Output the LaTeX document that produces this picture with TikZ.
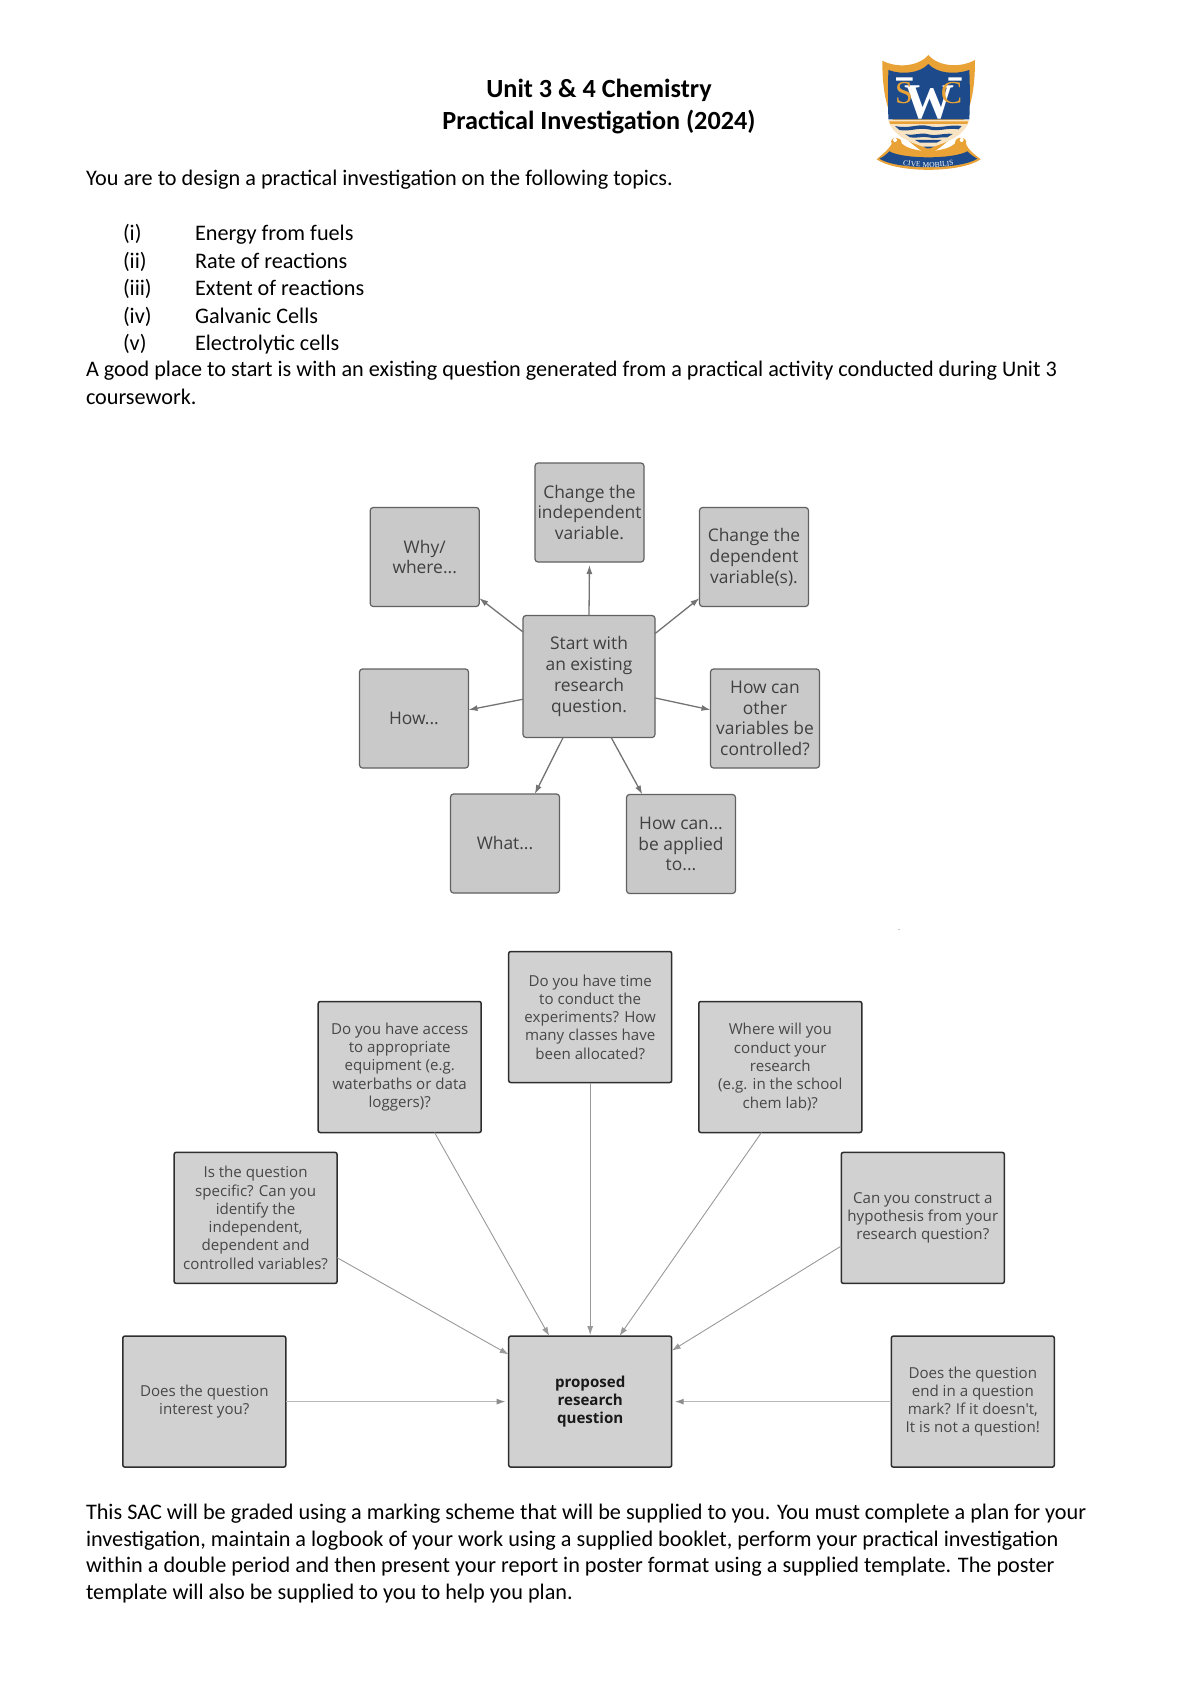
\documentclass[tikz,border=0pt]{standalone}
\usepackage{fontspec}
\setmainfont{Carlito}
\newfontfamily\boxfont{Open Sans}
\newfontfamily\crestfont{Liberation Serif}
\usepackage{tikz}
\usetikzlibrary{calc, arrows.meta, decorations.text}
\definecolor{crestblue}{HTML}{1C4A8A}
\definecolor{crestgold}{HTML}{E9A236}

\begin{document}
\begin{tikzpicture}[x=1pt,y=-1pt,inner sep=0pt,outer sep=0pt,>={Latex[length=9pt,width=6pt]},%
  body/.style={anchor=base west,font=\fontsize{22.22}{27}\selectfont},
  heading/.style={align=center,font=\fontsize{26.2}{32.5}\selectfont\bfseries},
  upperbox/.style={draw=black!62,fill=black!21,line width=1.2pt,rounded corners=3pt,minimum width=109pt,minimum height=99pt,align=center,font=\fontsize{17.4}{20.8}\selectfont\boxfont,text=black!75},
  centerbox/.style={upperbox,minimum width=132pt,minimum height=122pt},
  lowerbox/.style={draw=black!82,fill=black!18,line width=1.5pt,rounded corners=2pt,minimum width=163pt,minimum height=131pt,align=center,font=\fontsize{15.1}{18.3}\selectfont\boxfont,text=black!72},
  upperarrow/.style={->,draw=black!55,line width=1.3pt},
  lowerarrow/.style={->,draw=black!40,line width=.9pt},
  sidearrow/.style={->,draw=black!28,line width=1.4pt,>={Latex[length=9pt,width=6pt,black!45]}}]
\useasboundingbox (0,0) rectangle (1200,1696);
\draw node [heading] (Title) at (599,106.5) {Unit 3 \& 4 Chemistry\\Practical Investigation (2024)};
\draw node [body] (Intro) at (86,186) {You are to design a practical investigation on the following topics.};
\draw node [body] (N1) at (123,241) {(i)};
\draw node [body] (N2) at (123,269) {(ii)};
\draw node [body] (N3) at (123,295) {(iii)};
\draw node [body] (N4) at (123,323) {(iv)};
\draw node [body] (N5) at (123,350) {(v)};
\draw node [body] (T1) at (195,241) {Energy from fuels};
\draw node [body] (T2) at (195,269) {Rate of reactions};
\draw node [body] (T3) at (195,295) {Extent of reactions};
\draw node [body] (T4) at (195,323) {Galvanic Cells};
\draw node [body] (T5) at (195,350) {Electrolytic cells};
\draw node [body] (Good1) at (86,376) {A good place to start is with an existing question generated from a practical activity conducted during Unit 3};
\draw node [body] (Good2) at (86,404) {coursework.};
\draw node [body] (Sac1) at (86,1519) {This SAC will be graded using a marking scheme that will be supplied to you. You must complete a plan for your};
\draw node [body] (Sac2) at (86,1546) {investigation, maintain a logbook of your work using a supplied booklet, perform your practical investigation};
\draw node [body] (Sac3) at (86,1572) {within a double period and then present your report in poster format using a supplied template. The poster};
\draw node [body] (Sac4) at (86,1599) {template will also be supplied to you to help you plan.};
% first diagram
\draw node [centerbox] (S0) at (589,676.5) {Start with\\an existing\\research\\question.};
\draw node [upperbox] (S1) at (589.5,512.5) {Change the\\independent\\variable.};
\draw node [upperbox] (S2) at (754,557) {Change the\\dependent\\variable(s).};
\draw node [upperbox] (S3) at (765,718.5) {How can\\other\\variables be\\controlled?};
\draw node [upperbox] (S4) at (681,844) {How can...\\be applied\\to...};
\draw node [upperbox] (S5) at (505,843.5) {What...};
\draw node [upperbox] (S6) at (414,718.5) {How...};
\draw node [upperbox] (S7) at (424.7,557) {Why/\\where...};
\draw [upperarrow,shorten >=3pt] (S0.north) -- (S1.south);
\draw [upperarrow] (S0.33) -- (S2.217);
\draw [upperarrow] (S0.-18) -- (S3.171);
\draw [upperarrow] (S0.-70) -- (S4.128);
\draw [upperarrow] (S0.-113) -- (S5.59);
\draw [upperarrow] (S0.199) -- (S6.9);
\draw [upperarrow] (S0.146) -- (S7.-37);
% second diagram
\draw node [lowerbox,font=\fontsize{15.1}{18.3}\selectfont\boxfont\bfseries,text=black!90] (P0) at (590.2,1401.6) {proposed\\research\\question};
\draw node [lowerbox] (P1) at (204.3,1401.6) {Does the question\\interest you?};
\draw node [lowerbox] (P2) at (255.6,1217.9) {Is the question\\specific? Can you\\identify the\\independent,\\dependent and\\controlled variables?};
\draw node [lowerbox] (P3) at (399.7,1067) {Do you have access\\to appropriate\\equipment (e.g.\\waterbaths or data\\loggers)?};
\draw node [lowerbox] (P4) at (590.2,1017) {Do you have time\\to conduct the\\experiments? How\\many classes have\\been allocated?};
\draw node [lowerbox] (P5) at (780.3,1067) {Where will you\\conduct your\\research\\(e.g. in the school\\chem lab)?};
\draw node [lowerbox] (P6) at (922.8,1217.9) {Can you construct a\\hypothesis from your\\research question?};
\draw node [lowerbox] (P7) at (972.8,1401.6) {Does the question\\end in a question\\mark? If it doesn't,\\It is not a question!};
\draw [sidearrow,shorten >=3pt] (P1.east) -- (P0.west);
\draw [lowerarrow] (P2.-26) -- (P0.150);
\draw [lowerarrow] (P3.-62) -- (P0.122);
\draw [lowerarrow,shorten >=1pt] (P4.south) -- (P0.north);
\draw [lowerarrow] (P5.254) -- (P0.66);
\draw [lowerarrow] (P6.199) -- (P0.32);
\draw [sidearrow,shorten >=3pt] (P7.west) -- (P0.east);
\draw node [font=\fontsize{8}{8}\selectfont,text=black!60] (Speck) at (899,930) {.};
% crest
\begin{scope}[shift={(860,40)},x=.3333pt,y=-.3333pt]
\fill [crestgold] (67,62) .. controls (110,85) and (175,80) .. (205,45) .. controls (235,80) and (300,85) .. (345,60) .. controls (345,190) and (320,280) .. (205,345) .. controls (90,280) and (67,190) .. (67,62) -- cycle;
\fill [crestgold] (50,358) .. controls (70,340) and (85,330) .. (95,312) .. controls (85,290) and (125,285) .. (125,310) .. controls (140,325) and (165,330) .. (205,335) .. controls (245,330) and (270,325) .. (285,310) .. controls (285,285) and (325,290) .. (318,312) .. controls (325,330) and (340,340) .. (362,358) .. controls (300,400) and (110,400) .. (50,358) -- cycle;
\fill [white] (105,300) circle (6) (305,300) circle (6);
\fill [crestgold!30!white] (85,240) -- (328,240) .. controls (315,285) and (270,305) .. (205,325) .. controls (140,305) and (97,285) .. (85,240) -- cycle;
\fill [crestblue] (85,90) .. controls (125,105) and (180,100) .. (205,72) .. controls (230,100) and (285,105) .. (328,90) .. controls (330,140) and (330,190) .. (328,238) -- (85,238) .. controls (84,190) and (84,140) .. (85,90) -- cycle;
\fill [crestgold] (88,244) -- (324,244) -- (322,252) -- (90,252) -- cycle;
\fill [crestblue] (105,258) .. controls (150,268) and (170,250) .. (205,258) .. controls (240,268) and (265,252) .. (305,258) -- (296,268) .. controls (260,262) and (240,276) .. (205,268) .. controls (170,262) and (150,276) .. (118,270) -- cycle;
\fill [crestblue] (135,282) .. controls (160,290) and (180,275) .. (205,283) .. controls (230,290) and (250,278) .. (278,282) -- (262,292) .. controls (240,290) and (225,298) .. (205,292) .. controls (185,288) and (170,296) .. (150,292) -- cycle;
\fill [crestblue] (165,300) -- (245,300) -- (230,308) -- (180,308) -- cycle;
\fill [crestblue] (190,320) -- (222,320) -- (210,325) -- (200,325) -- cycle;
\fill [crestblue] (58,356) .. controls (72,350) and (80,342) .. (88,334) .. controls (130,358) and (280,358) .. (322,334) .. controls (330,342) and (340,350) .. (352,356) .. controls (300,390) and (110,390) .. (58,356) -- cycle;
\fill [white] (108,112) rectangle (158,122) (265,112) rectangle (305,122);
\node [font=\fontsize{50}{50}\selectfont\crestfont\bfseries,text=white] (CrestW) at (207,188) {W};
\node [font=\fontsize{32}{32}\selectfont\crestfont,text=crestgold] (CrestS) at (132,158) {S};
\node [font=\fontsize{32}{32}\selectfont\crestfont,text=crestgold] (CrestC) at (275,158) {C};
\path [postaction={decorate,decoration={text along path,text align=center,raise=-3pt,text={|\fontsize{7.5}{7.5}\selectfont\crestfont\color{white}|CIVE MOBILIS}}}] (72,350) .. controls (130,380) and (280,380) .. (338,350);
\end{scope}
\end{tikzpicture}
\end{document}
